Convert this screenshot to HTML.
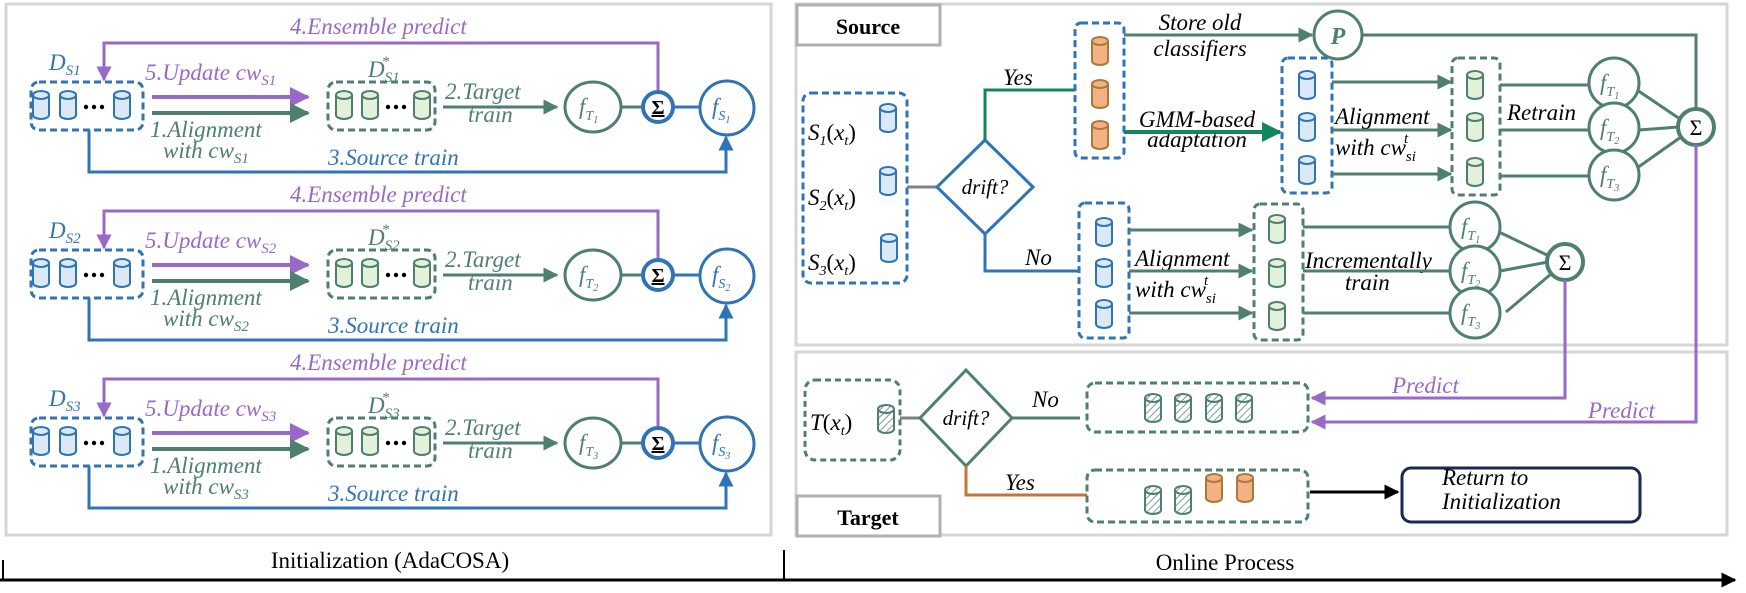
<!DOCTYPE html>
<html><head><meta charset="utf-8"><style>
html,body{margin:0;padding:0;background:#fff;}
svg{display:block;}
text{font-family:"Liberation Serif","DejaVu Serif",serif;}
.it, .it text{font-style:italic;font-family:"Liberation Serif","DejaVu Serif",serif;}
</style></head><body>
<svg width="1746" height="593" viewBox="0 0 1746 593" xmlns="http://www.w3.org/2000/svg" font-family="Liberation Serif, DejaVu Serif, serif">
<defs>
<marker id="ag" viewBox="0 0 10 10" refX="9" refY="5" markerWidth="5" markerHeight="5" orient="auto"><path d="M0,0L10,5L0,10z" fill="#4e7f6f"/></marker>
<marker id="ap" viewBox="0 0 10 10" refX="9" refY="5" markerWidth="5" markerHeight="5" orient="auto"><path d="M0,0L10,5L0,10z" fill="#9a68c6"/></marker>
<marker id="ab" viewBox="0 0 10 10" refX="9" refY="5" markerWidth="5" markerHeight="5" orient="auto"><path d="M0,0L10,5L0,10z" fill="#2f75b5"/></marker>
<marker id="ak" viewBox="0 0 10 10" refX="9" refY="5" markerWidth="5" markerHeight="5" orient="auto"><path d="M0,0L10,5L0,10z" fill="#000"/></marker>
<marker id="agg" viewBox="0 0 10 10" refX="9" refY="5" markerWidth="5" markerHeight="5" orient="auto"><path d="M0,0L10,5L0,10z" fill="#14875a"/></marker>
<pattern id="hatch" width="5" height="5" patternUnits="userSpaceOnUse" patternTransform="rotate(45)"><rect width="5" height="5" fill="#fff"/><line x1="0" y1="0" x2="0" y2="5" stroke="#4e7f6f" stroke-width="1.5"/></pattern>
<g id="cb"><path d="M0,5V25A8,4 0 0 0 16,25V5" fill="#dbe9f7" stroke="#2f75b5" stroke-width="2"/><ellipse cx="8" cy="5" rx="8" ry="4" fill="#dbe9f7" stroke="#2f75b5" stroke-width="2"/></g>
<g id="cg"><path d="M0,5V25A8,4 0 0 0 16,25V5" fill="#e3f0da" stroke="#4e7f6f" stroke-width="2"/><ellipse cx="8" cy="5" rx="8" ry="4" fill="#e3f0da" stroke="#4e7f6f" stroke-width="2"/></g>
<g id="co"><path d="M0,5V25A8,4 0 0 0 16,25V5" fill="#f4b183" stroke="#a87b3a" stroke-width="2"/><ellipse cx="8" cy="5" rx="8" ry="4" fill="#f4b183" stroke="#a87b3a" stroke-width="2"/></g>
<g id="ch"><path d="M0,5V25A8,4 0 0 0 16,25V5" fill="url(#hatch)" stroke="#4e7f6f" stroke-width="2"/><ellipse cx="8" cy="5" rx="8" ry="4" fill="url(#hatch)" stroke="#4e7f6f" stroke-width="2"/></g>
<g id="row">
  <path d="M658,91V43H104V80" fill="none" stroke="#9a68c6" stroke-width="3" marker-end="url(#ap)"/>
  <rect x="31" y="82" width="112" height="48" rx="8" fill="none" stroke="#2f75b5" stroke-width="3" stroke-dasharray="7,4"/>
  <use href="#cb" x="33" y="90"/><use href="#cb" x="60" y="90"/><use href="#cb" x="114" y="90"/>
  <circle cx="86" cy="107" r="2.2"/><circle cx="94" cy="107" r="2.2"/><circle cx="102" cy="107" r="2.2"/>
  <line x1="152" y1="97" x2="308" y2="97" stroke="#9a68c6" stroke-width="4" marker-end="url(#ap)"/>
  <line x1="152" y1="113" x2="308" y2="113" stroke="#4e7f6f" stroke-width="4" marker-end="url(#ag)"/>
  <rect x="328" y="82" width="107" height="48" rx="8" fill="none" stroke="#4e7f6f" stroke-width="3" stroke-dasharray="7,4"/>
  <use href="#cg" x="336" y="90"/><use href="#cg" x="362" y="90"/><use href="#cg" x="414" y="90"/>
  <circle cx="388" cy="107" r="2.2"/><circle cx="396" cy="107" r="2.2"/><circle cx="404" cy="107" r="2.2"/>
  <line x1="443" y1="107" x2="557" y2="107" stroke="#4e7f6f" stroke-width="3" marker-end="url(#ag)"/>
  <ellipse cx="593" cy="107" rx="28" ry="25" fill="#fff" stroke="#4e7f6f" stroke-width="3"/>
  <line x1="621" y1="107" x2="642" y2="107" stroke="#4e7f6f" stroke-width="3"/>
  <line x1="674" y1="107" x2="700" y2="107" stroke="#2f75b5" stroke-width="3"/>
  <circle cx="658" cy="107" r="15" fill="#fff" stroke="#2f75b5" stroke-width="4"/>
  <text x="658" y="114" text-anchor="middle" font-size="20" font-weight="bold" text-decoration="underline">Σ</text>
  <circle cx="727" cy="108" r="27" fill="#fff" stroke="#2f75b5" stroke-width="3"/>
  <path d="M89,130V172H726V137" fill="none" stroke="#2f75b5" stroke-width="3" marker-end="url(#ab)"/>
</g>
</defs>

<rect x="6" y="4" width="765" height="531" fill="none" stroke="#d6d6d6" stroke-width="3"/>
<rect x="796" y="4" width="931" height="341" fill="none" stroke="#d6d6d6" stroke-width="3"/>
<rect x="796" y="352" width="931" height="183" fill="none" stroke="#d6d6d6" stroke-width="3"/>

<use href="#row"/><use href="#row" y="168"/><use href="#row" y="336"/>

<g font-size="23" class="it" font-style="italic">
<g fill="#9a68c6"><text x="290" y="34">4.Ensemble predict</text><text x="290" y="202">4.Ensemble predict</text><text x="290" y="370">4.Ensemble predict</text>
<text x="145" y="80">5.Update cw<tspan font-size="15" dy="5">S1</tspan></text>
<text x="145" y="248">5.Update cw<tspan font-size="15" dy="5">S2</tspan></text>
<text x="145" y="416">5.Update cw<tspan font-size="15" dy="5">S3</tspan></text></g>
<g fill="#2f75b5"><text x="49" y="70">D<tspan font-size="15" dy="5">S1</tspan></text><text x="49" y="238">D<tspan font-size="15" dy="5">S2</tspan></text><text x="49" y="406">D<tspan font-size="15" dy="5">S3</tspan></text>
<text x="328" y="165">3.Source train</text><text x="328" y="333">3.Source train</text><text x="328" y="501">3.Source train</text>
<text x="712" y="114">f<tspan font-size="14" dy="6">S</tspan><tspan font-size="10" dy="3">1</tspan></text>
<text x="712" y="282">f<tspan font-size="14" dy="6">S</tspan><tspan font-size="10" dy="3">2</tspan></text>
<text x="712" y="450">f<tspan font-size="14" dy="6">S</tspan><tspan font-size="10" dy="3">3</tspan></text></g>
<g fill="#4e7f6f">
<text x="368" y="77">D<tspan font-size="15" dy="5">S1</tspan><tspan font-size="15" dx="-18" dy="-16">*</tspan></text>
<text x="368" y="245">D<tspan font-size="15" dy="5">S2</tspan><tspan font-size="15" dx="-18" dy="-16">*</tspan></text>
<text x="368" y="413">D<tspan font-size="15" dy="5">S3</tspan><tspan font-size="15" dx="-18" dy="-16">*</tspan></text>
<text x="150" y="137">1.Alignment</text><text x="163" y="158">with cw<tspan font-size="15" dy="5">S1</tspan></text>
<text x="150" y="305">1.Alignment</text><text x="163" y="326">with cw<tspan font-size="15" dy="5">S2</tspan></text>
<text x="150" y="473">1.Alignment</text><text x="163" y="494">with cw<tspan font-size="15" dy="5">S3</tspan></text>
<text x="445" y="99">2.Target</text><text x="468" y="122">train</text>
<text x="445" y="267">2.Target</text><text x="468" y="290">train</text>
<text x="445" y="435">2.Target</text><text x="468" y="458">train</text>
<text x="579" y="114">f<tspan font-size="14" dy="6">T</tspan><tspan font-size="10" dy="3">1</tspan></text>
<text x="579" y="282">f<tspan font-size="14" dy="6">T</tspan><tspan font-size="10" dy="3">2</tspan></text>
<text x="579" y="450">f<tspan font-size="14" dy="6">T</tspan><tspan font-size="10" dy="3">3</tspan></text>
</g>
</g>

<rect x="797" y="5" width="143" height="40" fill="#fff" stroke="#b0b0b0" stroke-width="3"/>
<text x="868" y="34" text-anchor="middle" font-size="22" font-weight="bold">Source</text>

<rect x="803" y="93" width="104" height="190" rx="8" fill="none" stroke="#2f75b5" stroke-width="3" stroke-dasharray="7,4"/>
<g font-size="23" class="it" font-style="italic">
<text x="808" y="140">S<tspan font-size="14" dy="5">1</tspan><tspan dy="-5" font-style="normal">(</tspan>x<tspan font-size="14" dy="5">t</tspan><tspan dy="-5" font-style="normal">)</tspan></text>
<text x="808" y="205">S<tspan font-size="14" dy="5">2</tspan><tspan dy="-5" font-style="normal">(</tspan>x<tspan font-size="14" dy="5">t</tspan><tspan dy="-5" font-style="normal">)</tspan></text>
<text x="808" y="270">S<tspan font-size="14" dy="5">3</tspan><tspan dy="-5" font-style="normal">(</tspan>x<tspan font-size="14" dy="5">t</tspan><tspan dy="-5" font-style="normal">)</tspan></text>
</g>
<use href="#cb" x="880" y="103"/><use href="#cb" x="880" y="166"/><use href="#cb" x="881" y="233"/>
<line x1="907" y1="187" x2="938" y2="187" stroke="#808080" stroke-width="3"/>
<polygon points="985,140 1033,187 985,234 937,187" fill="#fff" stroke="#2f75b5" stroke-width="3"/>
<g class="it" font-style="italic" font-size="23">
<text x="985" y="194" text-anchor="middle" font-size="21">drift?</text>
<text x="1003" y="85">Yes</text>
<text x="1025" y="265">No</text>
<text x="1200" y="30" text-anchor="middle">Store old</text>
<text x="1200" y="56" text-anchor="middle">classifiers</text>
<text x="1197" y="127" text-anchor="middle">GMM-based</text>
<text x="1197" y="147" text-anchor="middle">adaptation</text>
<text x="1335" y="124">Alignment</text>
<text x="1335" y="155">with cw<tspan font-size="15" dy="6">si</tspan><tspan font-size="15" dx="-12" dy="-18">t</tspan></text>
<text x="1507" y="120">Retrain</text>
<text x="1135" y="266">Alignment</text>
<text x="1135" y="297">with cw<tspan font-size="15" dy="6">si</tspan><tspan font-size="15" dx="-12" dy="-18">t</tspan></text>
<text x="1305" y="268">Incrementally</text>
<text x="1345" y="290">train</text>
</g>
<path d="M985,140V90H1075" fill="none" stroke="#14875a" stroke-width="3"/>
<path d="M985,234V271H1080" fill="none" stroke="#2f75b5" stroke-width="3"/>

<rect x="1075" y="23" width="49" height="135" rx="6" fill="none" stroke="#2f75b5" stroke-width="3" stroke-dasharray="7,4"/>
<use href="#co" x="1092" y="36"/><use href="#co" x="1092" y="79"/><use href="#co" x="1092" y="120"/>
<line x1="1124" y1="35" x2="1312" y2="35" stroke="#4e7f6f" stroke-width="3" marker-end="url(#ag)"/>
<circle cx="1338" cy="35" r="24" fill="#fff" stroke="#4e7f6f" stroke-width="3"/>
<text x="1338" y="44" text-anchor="middle" font-size="24" font-weight="bold" font-style="italic" fill="#4e7f6f">P</text>
<path d="M1362,35H1696V109" fill="none" stroke="#4e7f6f" stroke-width="3"/>
<line x1="1124" y1="132" x2="1280" y2="132" stroke="#14875a" stroke-width="4" marker-end="url(#agg)"/>

<rect x="1282" y="58" width="50" height="135" rx="6" fill="none" stroke="#2f75b5" stroke-width="3" stroke-dasharray="7,4"/>
<use href="#cb" x="1299" y="70"/><use href="#cb" x="1299" y="112"/><use href="#cb" x="1299" y="155"/>
<g stroke="#4e7f6f" stroke-width="3" marker-end="url(#ag)"><line x1="1332" y1="82" x2="1451" y2="82"/><line x1="1332" y1="130" x2="1451" y2="130"/><line x1="1332" y1="174" x2="1451" y2="174"/></g>
<rect x="1452" y="58" width="48" height="137" rx="6" fill="none" stroke="#4e7f6f" stroke-width="3" stroke-dasharray="7,4"/>
<use href="#cg" x="1467" y="70"/><use href="#cg" x="1467" y="112"/><use href="#cg" x="1467" y="157"/>
<g stroke="#4e7f6f" stroke-width="3"><line x1="1500" y1="85" x2="1590" y2="85"/><line x1="1500" y1="130" x2="1590" y2="130"/><line x1="1500" y1="176" x2="1590" y2="176"/>
<line x1="1637" y1="90" x2="1680" y2="119"/><line x1="1639" y1="130" x2="1678" y2="127"/><line x1="1637" y1="168" x2="1681" y2="137"/></g>
<g fill="#fff" stroke="#4e7f6f" stroke-width="3"><circle cx="1614" cy="83" r="25"/><circle cx="1614" cy="128" r="25"/><circle cx="1614" cy="175" r="25"/></g>
<g font-size="23" font-style="italic" fill="#4e7f6f">
<text x="1600" y="90">f<tspan font-size="14" dy="6">T</tspan><tspan font-size="10" dy="3">1</tspan></text>
<text x="1600" y="135">f<tspan font-size="14" dy="6">T</tspan><tspan font-size="10" dy="3">2</tspan></text>
<text x="1600" y="182">f<tspan font-size="14" dy="6">T</tspan><tspan font-size="10" dy="3">3</tspan></text>
</g>
<circle cx="1696" cy="127" r="18" fill="#fff" stroke="#4e7f6f" stroke-width="4"/>
<text x="1696" y="135" text-anchor="middle" font-size="22">Σ</text>

<rect x="1079" y="203" width="50" height="135" rx="6" fill="none" stroke="#2f75b5" stroke-width="3" stroke-dasharray="7,4"/>
<use href="#cb" x="1096" y="217"/><use href="#cb" x="1096" y="258"/><use href="#cb" x="1096" y="299"/>
<g stroke="#4e7f6f" stroke-width="3" marker-end="url(#ag)"><line x1="1129" y1="230" x2="1252" y2="230"/><line x1="1129" y1="271" x2="1252" y2="271"/><line x1="1129" y1="313" x2="1252" y2="313"/></g>
<rect x="1254" y="204" width="49" height="136" rx="6" fill="none" stroke="#4e7f6f" stroke-width="3" stroke-dasharray="7,4"/>
<use href="#cg" x="1269" y="214"/><use href="#cg" x="1269" y="258"/><use href="#cg" x="1269" y="301"/>
<g stroke="#4e7f6f" stroke-width="3"><line x1="1303" y1="227" x2="1451" y2="227"/><line x1="1303" y1="271" x2="1451" y2="271"/><line x1="1303" y1="313" x2="1451" y2="313"/>
<line x1="1499" y1="232" x2="1549" y2="256"/><line x1="1500" y1="271" x2="1548" y2="262"/><line x1="1506" y1="312" x2="1551" y2="274"/></g>
<g fill="#fff" stroke="#4e7f6f" stroke-width="3"><circle cx="1475" cy="227" r="25"/><circle cx="1475" cy="271" r="25"/><circle cx="1475" cy="313" r="25"/></g>
<g font-size="23" font-style="italic" fill="#4e7f6f">
<text x="1461" y="234">f<tspan font-size="14" dy="6">T</tspan><tspan font-size="10" dy="3">1</tspan></text>
<text x="1461" y="278">f<tspan font-size="14" dy="6">T</tspan><tspan font-size="10" dy="3">2</tspan></text>
<text x="1461" y="320">f<tspan font-size="14" dy="6">T</tspan><tspan font-size="10" dy="3">3</tspan></text>
</g>
<circle cx="1565" cy="262" r="18" fill="#fff" stroke="#4e7f6f" stroke-width="4"/>
<text x="1565" y="270" text-anchor="middle" font-size="22">Σ</text>

<path d="M1565,280V398H1312" fill="none" stroke="#9a68c6" stroke-width="3" marker-end="url(#ap)"/>
<path d="M1696,145V422H1312" fill="none" stroke="#9a68c6" stroke-width="3" marker-end="url(#ap)"/>
<text x="1392" y="393" font-size="23" font-style="italic" fill="#9a68c6">Predict</text>
<text x="1588" y="418" font-size="23" font-style="italic" fill="#9a68c6">Predict</text>

<rect x="805" y="380" width="95" height="80" rx="10" fill="none" stroke="#4e7f6f" stroke-width="3" stroke-dasharray="6,4"/>
<text x="810" y="430" font-size="23" font-style="italic">T<tspan font-style="normal">(</tspan>x<tspan font-size="14" dy="5">t</tspan><tspan dy="-5" font-style="normal">)</tspan></text>
<use href="#ch" x="878" y="404"/>
<line x1="900" y1="418" x2="920" y2="418" stroke="#808080" stroke-width="3"/>
<polygon points="966,370 1012,418 966,466 920,418" fill="#fff" stroke="#4e7f6f" stroke-width="3"/>
<text x="966" y="425" text-anchor="middle" font-size="21" font-style="italic">drift?</text>
<line x1="1012" y1="418" x2="1080" y2="418" stroke="#4e7f6f" stroke-width="3"/>
<text x="1032" y="407" font-size="23" font-style="italic">No</text>
<rect x="1087" y="383" width="221" height="49" rx="8" fill="none" stroke="#4e7f6f" stroke-width="3" stroke-dasharray="7,4"/>
<use href="#ch" x="1145" y="393"/><use href="#ch" x="1175" y="393"/><use href="#ch" x="1206" y="393"/><use href="#ch" x="1236" y="393"/>
<path d="M966,466V495H1087" fill="none" stroke="#c0763a" stroke-width="3"/>
<text x="1005" y="490" font-size="23" font-style="italic">Yes</text>
<rect x="1087" y="470" width="221" height="52" rx="8" fill="none" stroke="#4e7f6f" stroke-width="3" stroke-dasharray="7,4"/>
<use href="#ch" x="1145" y="485"/><use href="#ch" x="1175" y="485"/><use href="#co" x="1206" y="473"/><use href="#co" x="1237" y="473"/>
<line x1="1310" y1="492" x2="1398" y2="492" stroke="#000" stroke-width="3" marker-end="url(#ak)"/>
<rect x="1402" y="468" width="238" height="54" rx="9" fill="#fff" stroke="#1a2a4e" stroke-width="3"/>
<text x="1442" y="485" font-size="23" font-style="italic">Return to</text>
<text x="1442" y="509" font-size="23" font-style="italic">Initialization</text>
<rect x="797" y="496" width="143" height="40" fill="#fff" stroke="#b0b0b0" stroke-width="3"/>
<text x="868" y="525" text-anchor="middle" font-size="22" font-weight="bold">Target</text>

<line x1="0" y1="580" x2="1735" y2="580" stroke="#000" stroke-width="3" marker-end="url(#ak)"/>
<line x1="3" y1="560" x2="3" y2="580" stroke="#000" stroke-width="2"/>
<line x1="784" y1="550" x2="784" y2="580" stroke="#000" stroke-width="2"/>
<text x="390" y="568" text-anchor="middle" font-size="23">Initialization (AdaCOSA)</text>
<text x="1225" y="570" text-anchor="middle" font-size="23">Online Process</text>
</svg>
</body></html>
